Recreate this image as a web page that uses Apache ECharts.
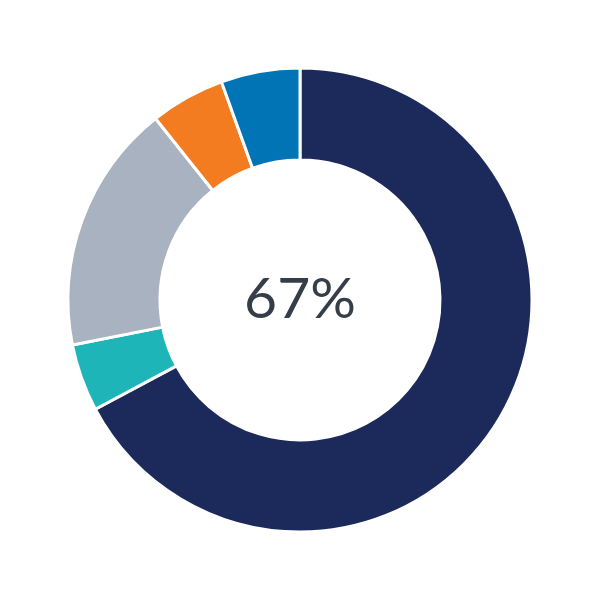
<!DOCTYPE html>
<html>
<head>
<meta charset="UTF-8">
<title>Donut</title>
<script src="https://cdn.jsdelivr.net/npm/echarts@6/dist/echarts.min.js"></script>
<style>
	html, body { margin: 0; padding: 0; background: #fff; }
	#chart { width: 600px; height: 600px; }
</style>
</head>
<body>
<div id="chart"></div>
<script>
// slice values, clockwise from 12 o'clock
const names = ['A', 'B', 'C', 'D', 'E']
const values = [67.2, 4.7, 17.4, 5.2, 5.5]
const colors = ['#1b2a5a', '#1db5b8', '#a8b2c0', '#f47c20', '#0074b5']
const centerText = '67%'

const chart = echarts.init(document.getElementById('chart'))
chart.setOption({
	animation: false,
	color: colors,
	title: {
		text: centerText,
		left: 'center',
		top: 'middle',
		textStyle: {
			fontFamily: 'Lato',
			fontWeight: 'normal',
			fontSize: 57,
			color: '#353e48'
		}
	},
	series: [{
		type: 'pie',
		center: [300, 300],
		radius: [140, 232],
		startAngle: 90,
		clockwise: true,
		label: { show: false },
		labelLine: { show: false },
		itemStyle: { borderColor: '#fff', borderWidth: 3 },
		data: names.map((n, i) => ({ name: n, value: values[i] }))
	}]
})
</script>
</body>
</html>
